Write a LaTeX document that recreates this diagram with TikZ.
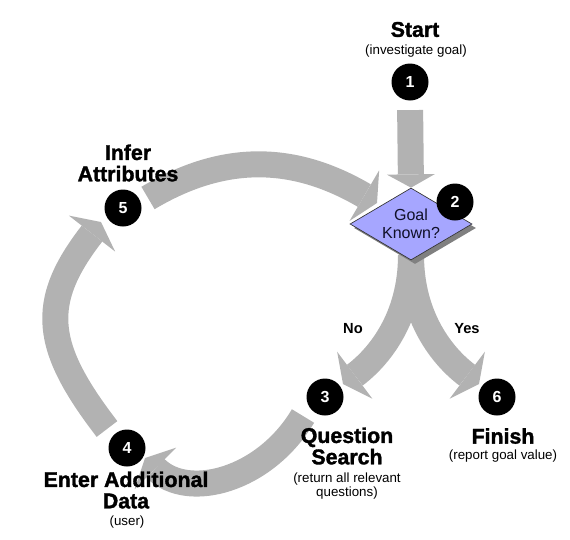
\documentclass[tikz,border=0pt]{standalone}
\usepackage{fontspec}
\setmainfont{Liberation Sans}
\newfontfamily\heavyfont[FakeBold=1.6]{Liberation Sans Bold}
\usetikzlibrary{arrows.meta,positioning,shapes.geometric,shadows}
\definecolor{bandgray}{HTML}{B2B2B2}
\definecolor{goalblue}{HTML}{A6A6FF}
\definecolor{goalink}{HTML}{101028}

\begin{document}
\begin{tikzpicture}[x=0.75pt, y=-0.75pt,
    band/.style={line width=19.5pt, draw=bandgray,
                 -{Triangle[width=44pt, length=11pt, line width=0pt]}},
    num/.style={circle, fill=black, minimum size=27.75pt, inner sep=0pt,
                text=white, font=\bfseries\fontsize{12}{12}\selectfont},
    ttl/.style={align=center, font=\heavyfont\fontsize{16}{16}\selectfont},
    sub/.style={align=center, font=\fontsize{10}{10.5}\selectfont},
    lbl/.style={font=\bfseries\fontsize{11}{11}\selectfont},
    goal/.style={diamond, aspect=1.7, minimum width=91.5pt, minimum height=54pt,
                 inner sep=0pt, fill=goalblue, draw=black!80, line width=0.5pt,
                 drop shadow={shadow xshift=3pt, shadow yshift=-3pt,
                              fill=black!50, opacity=1},
                 align=center, text=goalink, font=\fontsize{12}{13.5}\selectfont}
  ]
  \useasboundingbox (0,0) rectangle (570,539);
  % --- band ends ---
  \coordinate (s5) at (148,198);
  \coordinate (e2) at (377,203);
  \coordinate (s4) at (107,429);
  \coordinate (e5) at (101,222);
  \coordinate (s3) at (303,416);
  \coordinate (e4) at (145,458);
  \coordinate (s2) at (411,255);
  \coordinate (e3) at (343,384);
  \coordinate (e6) at (479,384);
  % --- gray bands ---
  \draw[band] (s5) .. controls (225,152) and (295,155) .. (e2);
  \draw[band] (s4) .. controls (44,347) and (38,303) .. (e5);
  \draw[band] (s3) .. controls (265,480) and (188,501) .. (e4);
  \draw[band] (s2) .. controls (411,318) and (379,357) .. (e3);
  \draw[band] (s2) .. controls (411,318) and (443,357) .. (e6);
  % --- decision ---
  \node[goal] (d2) at (411,224) {Goal\\Known?};
  % --- numbered steps ---
  \node[num] (n1) at (410,82) {1};
  \node[num] (n2) at (455,202) {2};
  \node[num] (n3) at (325,397) {3};
  \node[num] (n4) at (127,448) {4};
  \node[num] (n5) at (123,208) {5};
  \node[num] (n6) at (497,397) {6};
  \draw[band, -{Triangle[width=36pt, length=10pt, line width=0pt]},
        shorten <=7pt] (n1.south) -- (d2.north);
  % --- titles ---
  \node[ttl] (start) at (415,29.5) {Start};
  \node[sub] (startsub) at (416,51) {(investigate goal)};
  \node[ttl] (infer) at (128,163) {Infer\\Attributes};
  \node[ttl] (quest) at (347,446) {Question\\Search};
  \node[sub] (questsub) at (347,486) {(return all relevant\\questions)};
  \node[ttl] (enter) at (126,490) {Enter Additional\\Data};
  \node[sub] (entersub) at (127,522) {(user)};
  \node[ttl] (finish) at (503,436) {Finish};
  \node[sub] (finishsub) at (503,456) {(report goal value)};
  \node[lbl] (no) at (353,329) {No};
  \node[lbl] (yes) at (467,329) {Yes};
\end{tikzpicture}
\end{document}
